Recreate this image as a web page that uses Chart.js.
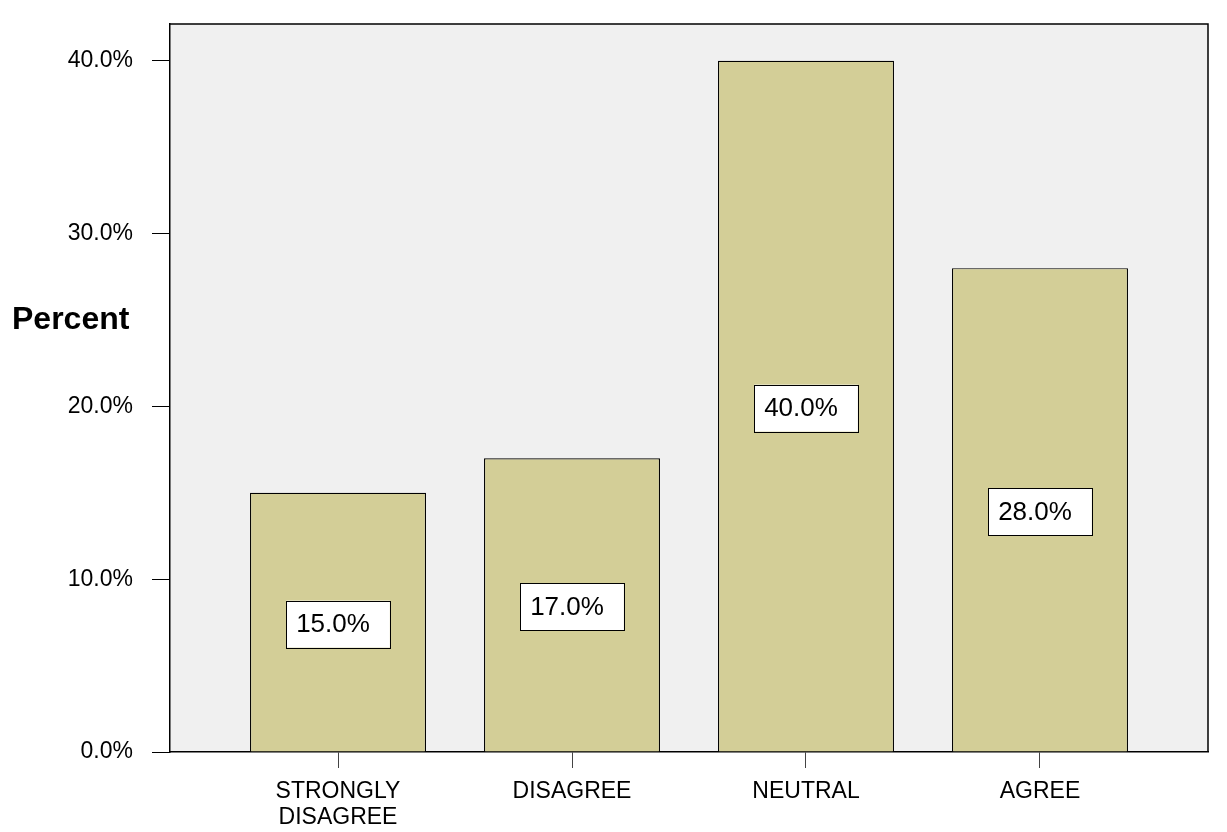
<!DOCTYPE html>
<html>
<head>
<meta charset="utf-8">
<script src="https://cdn.jsdelivr.net/npm/chart.js@4/dist/chart.umd.min.js"></script>
<style>
  body { margin: 0; background: #fff; }
  canvas { display: block; }
</style>
</head>
<body>
<canvas id="barChart" width="1227" height="832"></canvas>
<script>
const categories = [['STRONGLY', 'DISAGREE'], 'DISAGREE', 'NEUTRAL', 'AGREE'];
const percentValues = [15.0, 17.0, 40.0, 28.0];
const yTicks = [0, 10, 20, 30, 40];

const fontFamily = '"Liberation Sans", Arial, Helvetica, sans-serif';

// grey plot area + frame on top and right
const plotBackground = {
    id: 'plotBackground',
    beforeDraw(chart) {
        const {ctx, chartArea: a} = chart;
        ctx.save();
        ctx.fillStyle = '#f0f0f0';
        ctx.fillRect(a.left, a.top, a.right - a.left, a.bottom - a.top);
        ctx.restore();
    },
    afterDraw(chart) {
        const {ctx, chartArea: a} = chart;
        ctx.save();
        ctx.strokeStyle = '#000';
        ctx.lineWidth = 1.5;
        ctx.beginPath();
        ctx.moveTo(a.left, a.top);
        ctx.lineTo(a.right, a.top);
        ctx.lineTo(a.right, a.bottom);
        ctx.stroke();
        // axis title, horizontal
        ctx.fillStyle = '#000';
        ctx.font = 'bold 32px ' + fontFamily;
        ctx.textAlign = 'left';
        ctx.textBaseline = 'alphabetic';
        ctx.fillText('Percent', 12, 329);
        ctx.restore();
    }
};

// white boxed value labels in the middle of each bar
const boxLabels = {
    id: 'boxLabels',
    afterDatasetsDraw(chart) {
        const {ctx} = chart;
        const meta = chart.getDatasetMeta(0);
        ctx.save();
        ctx.font = '26px ' + fontFamily;
        meta.data.forEach((bar, i) => {
            const text = percentValues[i].toFixed(1) + '%';
            const tw = ctx.measureText(text).width;
            const w = tw + 30, h = 47;
            const cy = (bar.y + bar.base) / 2 + 2;
            const left = bar.x - w / 2;
            ctx.fillStyle = '#fff';
            ctx.fillRect(left, cy - h / 2, w, h);
            ctx.strokeStyle = '#000';
            ctx.lineWidth = 1;
            ctx.strokeRect(Math.round(left) + 0.5, Math.round(cy - h / 2) + 0.5, Math.round(w), h);
            ctx.fillStyle = '#000';
            ctx.textAlign = 'left';
            ctx.textBaseline = 'middle';
            ctx.fillText(text, left + 10, cy + 1);
        });
        ctx.restore();
    }
};

const chartData = {
    datasets: [{
        label: 'Percent',
        data: percentValues.map((v, i) => ({x: i, y: v})),
        backgroundColor: '#d3ce97',
        borderColor: '#000',
        borderWidth: 1.2,
        barPercentage: 0.752,
        categoryPercentage: 1.0
    }]
};

const chartConfig = {
    type: 'bar',
    data: chartData,
    options: {
        responsive: false,
        animation: false,
        layout: { padding: { top: 24, right: 19, left: 0, bottom: 0 } },
        plugins: {
            legend: { display: false },
            tooltip: { enabled: false }
        },
        scales: {
            x: {
                type: 'linear',
                offset: false,
                min: -0.718,
                max: 3.718,
                afterFit(scale) { scale.height = 80; },
                afterBuildTicks(scale) {
                    scale.ticks = categories.map((c, i) => ({value: i}));
                },
                grid: {
                    offset: false,
                    drawOnChartArea: false,
                    drawTicks: true,
                    tickLength: 16,
                    color: '#444'
                },
                border: { display: true, color: '#000', width: 1.5 },
                ticks: {
                    autoSkip: false,
                    maxRotation: 0,
                    padding: 10,
                    color: '#000',
                    font: { family: fontFamily, size: 23, lineHeight: 1.15 },
                    callback: (value) => categories[value]
                }
            },
            y: {
                min: 0,
                max: 42.13,
                afterFit(scale) {
                    scale.width = 170;
                    scale.paddingTop = 0;
                    scale.paddingBottom = 0;
                },
                afterBuildTicks(scale) {
                    scale.ticks = yTicks.map(v => ({value: v}));
                },
                grid: {
                    drawOnChartArea: false,
                    drawTicks: true,
                    tickLength: 18,
                    color: '#000'
                },
                border: { display: true, color: '#000', width: 1.5 },
                ticks: {
                    padding: 19,
                    color: '#000',
                    font: { family: fontFamily, size: 23 },
                    callback: (value) => value.toFixed(1) + '%'
                }
            }
        }
    },
    plugins: [plotBackground, boxLabels]
};

let chartID = document.getElementById('barChart');
let chart = new Chart(chartID, chartConfig);
</script>
</body>
</html>
